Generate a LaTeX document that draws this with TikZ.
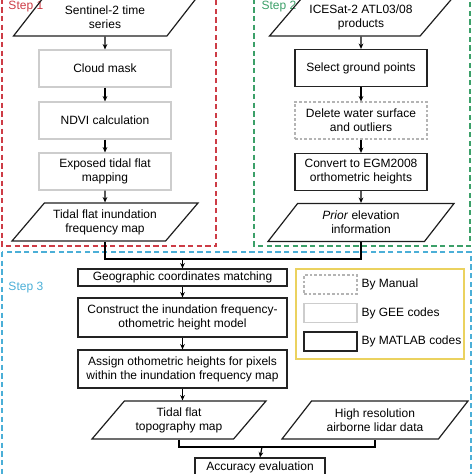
\documentclass[tikz,border=0pt]{standalone}
\usepackage{fontspec}
\setmainfont{Liberation Sans}
\usetikzlibrary{shapes.geometric,arrows.meta}

\tikzset{every picture/.style={line width=0.75pt}}
\tikzset{
  gee/.style={draw={rgb, 255:red, 205; green, 205; blue, 205 }, line width=0.9pt, minimum width=99pt, minimum height=27.75pt, align=center, inner sep=0.75pt},
  manual/.style={gee, draw={rgb, 255:red, 180; green, 180; blue, 180 }, dash pattern={on 2pt off 1.5pt}},
  matlab/.style={gee, draw={rgb, 255:red, 35; green, 35; blue, 35 }},
  dataset/.style={trapezium, trapezium left angle=40, trapezium right angle=140, trapezium stretches body, draw={rgb, 255:red, 30; green, 30; blue, 30 }, line width=0.9pt, minimum height=28.5pt, align=center, inner sep=0.75pt},
  flow/.style={-{Stealth[length=4pt,width=3.5pt]}, line width=0.9pt},
  joinline/.style={line width=0.9pt},
  stepframe/.style={line width=1.2pt, dash pattern={on 4pt off 2.5pt}},
}

\begin{document}
\begin{tikzpicture}[x=0.75pt,y=0.75pt,yscale=-1,xscale=1, font=\fontsize{9}{10.5}\selectfont]
\useasboundingbox (0,0) rectangle (474,474);
\clip (0,0) rectangle (474,474);

%Shape: Rectangle (step frames)
\draw [stepframe, draw={rgb, 255:red, 205; green, 60; blue, 70 }] (2,-10) rectangle (216,246);
\draw [stepframe, draw={rgb, 255:red, 60; green, 160; blue, 105 }] (254,-10) rectangle (470,246);
\draw [stepframe, draw={rgb, 255:red, 75; green, 175; blue, 215 }] (2,252) rectangle (471,490);

% Text Node
\node [anchor=base west, inner sep=0.75pt, text={rgb, 255:red, 205; green, 60; blue, 70 }] (stepone) at (7,10) {Step 1};
\node [anchor=base west, inner sep=0.75pt, text={rgb, 255:red, 60; green, 160; blue, 105 }] (steptwo) at (260,10) {Step 2};
\node [anchor=west, inner sep=0.75pt, text={rgb, 255:red, 75; green, 175; blue, 215 }] (stepthree) at (7,288) {Step 3};

%Step 1
\node [dataset, minimum width=137.25pt] (sentinel) at (105,17) {Sentinel-2 time\\series};
\node [gee] (cloud) at (105,68.5) {Cloud mask};
\node [gee] (ndvi) at (105,120.5) {NDVI calculation};
\node [gee] (exposed) at (105,171.5) {Exposed tidal flat\\mapping};
\node [dataset, minimum width=139.5pt] (inund) at (105,222) {Tidal flat inundation\\frequency map};

%Step 2
\node [dataset, minimum width=137.25pt] (icesat) at (361,17) {ICESat-2 ATL03/08\\products};
\node [matlab] (select) at (361,68) {Select ground points};
\node [manual] (delete) at (361,120.5) {Delete water surface\\and outliers};
\node [matlab] (convert) at (361,172) {Convert to EGM2008\\orthometric heights};
\node [dataset, minimum width=139.5pt] (prior) at (361,222.5) {\textit{Prior} elevation\\information};

%Step 3
\node [matlab, minimum width=156.75pt, minimum height=12.75pt] (geo) at (182.5,277.5) {Geographic coordinates matching};
\node [matlab, minimum width=156.75pt, minimum height=29.25pt] (construct) at (182.5,317.5) {Construct the inundation frequency-\\othometric height model};
\node [matlab, minimum width=156.75pt, minimum height=28.5pt] (assign) at (182.5,369) {Assign othometric heights for pixels\\within the inundation frequency map};
\node [dataset, minimum width=130.5pt] (topo) at (179,420) {Tidal flat\\topography map};
\node [dataset, minimum width=139.5pt] (lidar) at (375,420) {High resolution\\airborne lidar data};
\node [matlab, minimum width=97.5pt, minimum height=13.5pt] (accuracy) at (260,467) {Accuracy evaluation};

\coordinate (joinA) at (182.5,259);
\coordinate (joinB) at (262,447);

%Straight Lines
\draw [flow] (sentinel.south) -- (cloud.north);
\draw [flow] (cloud) -- (ndvi);
\draw [flow] (ndvi) -- (exposed);
\draw [flow] (exposed.south) -- (inund.north);
\draw [flow] (icesat.south) -- (select.north);
\draw [flow] (select) -- (delete);
\draw [flow] (delete) -- (convert);
\draw [flow] (convert.south) -- (prior.north);
\draw [joinline] (inund.south) -- (inund.south |- joinA) -- (prior.south |- joinA) -- (prior.south);
\draw [flow] (joinA) -- (geo.north);
\draw [flow] (geo) -- (construct);
\draw [flow] (construct) -- (assign);
\draw [flow] (assign.south) -- (assign.south |- topo.north);
\draw [joinline] (topo.south) -- (topo.south |- joinB) -- (lidar.south |- joinB) -- (lidar.south);
\draw [flow] (joinB) -- (accuracy.north);

%Shape: Rectangle (legend)
\draw [draw={rgb, 255:red, 235; green, 210; blue, 95 }, line width=0.9pt] (296,269) rectangle (464,359);
\node [manual, minimum width=39.75pt, minimum height=14.25pt] (keymanual) at (330.5,284.5) {};
\node [gee, minimum width=39.75pt, minimum height=14.25pt] (keygee) at (330.5,313) {};
\node [matlab, minimum width=39.75pt, minimum height=14.25pt] (keymatlab) at (330.5,341.5) {};

% Text Node
\node [anchor=west, inner sep=0.75pt] (lblmanual) at (360,284.5) {By Manual};
\node [anchor=west, inner sep=0.75pt] (lblgee) at (360,313) {By GEE codes};
\node [anchor=west, inner sep=0.75pt] (lblmatlab) at (360,341.5) {By MATLAB codes};

\end{tikzpicture}
\end{document}
